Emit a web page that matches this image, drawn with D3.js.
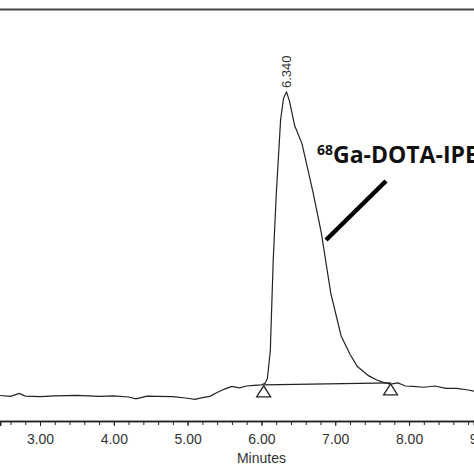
<!DOCTYPE html>
<html><head><meta charset="utf-8">
<script src="https://cdn.jsdelivr.net/npm/d3@7"></script>
<style>body{margin:0;background:#fff}</style>
</head><body>
<script>
// chromatogram trace: minutes, detector signal (relative)
var times =  [2.46,2.6,2.72,2.8,3.0,3.2,3.5,3.8,4.0,4.2,4.3,4.45,4.6,4.8,5.0,5.1,5.2,5.3,5.4,5.5,5.6,5.7,5.8,5.9,6.0,6.05,6.08,6.12,6.16,6.20,6.26,6.30,6.34,6.38,6.45,6.55,6.70,6.81,6.94,7.08,7.2,7.3,7.45,7.57,7.65,7.75,7.85,7.95,8.05,8.2,8.35,8.5,8.65,8.8,8.9];
var signal = [0.5,0.2,1.2,0.3,0.1,0.4,0.5,0.2,0.4,0.0,-0.6,0.3,0.2,0.1,-0.4,-0.8,-0.2,0.2,1.5,2.6,3.5,3.0,3.6,3.8,4.0,4.5,6,15,45,66,91,98,100,97,89,83,67,54,34,20,14,10,7,5.5,4.8,4.2,4.6,3.6,3.5,3.2,3.6,2.8,2.8,2.3,1.8];
var peakTime = 6.340;
var markTimes = [6.03, 7.75];
var markValues = [4.0, 4.6];
var xTicks = [3, 4, 5, 6, 7, 8, 9];

var W = 474, H = 474;
var svg = d3.select('body').append('svg').attr('width', W).attr('height', H);
var x = d3.scaleLinear().domain([2.458, 8.88]).range([0, W]);
var y = d3.scaleLinear().domain([0, 100]).range([397, 92]);

// top frame line
svg.append('line').attr('x1', 0).attr('x2', W).attr('y1', 9.5).attr('y2', 9.5)
    .attr('stroke', '#444').attr('stroke-width', 2);

var line = d3.line().x(function (d, i) { return x(times[i]); }).y(function (d) { return y(d); });
svg.append('path').datum(signal).attr('d', line)
    .attr('fill', 'none').attr('stroke', '#222').attr('stroke-width', 1.2);

// integration baseline
svg.append('line')
    .attr('x1', x(markTimes[0])).attr('y1', y(markValues[0]))
    .attr('x2', x(markTimes[1])).attr('y2', y(markValues[1]))
    .attr('stroke', '#222').attr('stroke-width', 1.2);

markTimes.forEach(function (t, i) {
    var cx = x(t), cy = y(markValues[i]) + 1;
    svg.append('path').attr('d', 'M' + cx + ',' + cy + 'L' + (cx - 7) + ',' + (cy + 11) + 'L' + (cx + 7) + ',' + (cy + 11) + 'Z')
        .attr('fill', '#fff').attr('stroke', '#222').attr('stroke-width', 1.3);
});

// peak label
svg.append('text').attr('transform', 'translate(' + (x(peakTime) + 4) + ',' + (y(100) - 4) + ') rotate(-90)')
    .attr('font-family', 'Liberation Sans, Arial').attr('font-size', 13).attr('fill', '#333')
    .text(peakTime.toFixed(3));

// annotation (runs off the right edge as in the original)
var ann = svg.append('text').attr('x', 317).attr('y', 163)
    .attr('font-family', 'Open Sans, Noto Sans').attr('font-weight', 'bold').attr('font-size', 23).attr('fill', '#111');
ann.append('tspan').attr('font-size', 14).attr('dy', -8).text('68');
ann.append('tspan').attr('dy', 8).text('Ga-DOTA-IPE');
svg.append('line').attr('x1', 326).attr('y1', 240).attr('x2', 386).attr('y2', 181)
    .attr('stroke', '#000').attr('stroke-width', 4.5);

// x axis
var axisG = svg.append('g').attr('transform', 'translate(0,421)');
axisG.call(d3.axisBottom(x).tickValues(d3.range(2.6, 9.01, 0.2)).tickSize(4).tickFormat(''));
axisG.append('g').call(d3.axisBottom(x).tickValues(xTicks).tickSize(5).tickFormat(d3.format('.2f')));
axisG.selectAll('path.domain').attr('stroke', '#222').attr('stroke-width', 1.5);
axisG.selectAll('line').attr('stroke', '#222');
axisG.selectAll('text').attr('font-family', 'Liberation Sans, Arial').attr('font-size', 14)
    .attr('fill', '#333').attr('dy', '1.1em');
svg.append('text').attr('x', x(6)).attr('y', 463).attr('text-anchor', 'middle')
    .attr('font-family', 'Liberation Sans, Arial').attr('font-size', 14).attr('fill', '#333').text('Minutes');
</script>
</body></html>
